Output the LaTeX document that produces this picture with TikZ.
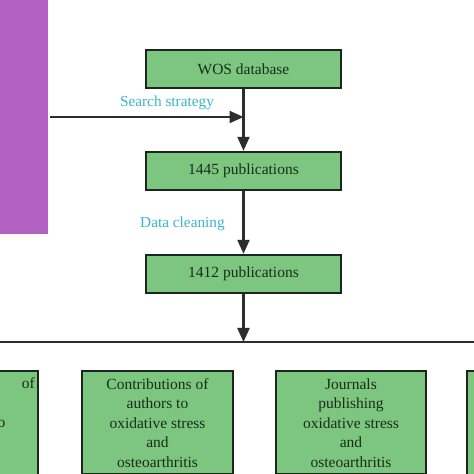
\documentclass[tikz,border=0pt]{standalone}
\usepackage{fontspec}
\setmainfont{Liberation Serif}
\usetikzlibrary{arrows.meta,positioning}
\definecolor{boxgreen}{RGB}{125,198,127}
\definecolor{boxline}{RGB}{28,38,30}
\definecolor{txtdark}{RGB}{25,45,28}
\definecolor{purp}{RGB}{178,96,194}
\definecolor{cyanlab}{RGB}{60,182,200}
\definecolor{arr}{RGB}{45,45,45}
\tikzset{
  gbox/.style={draw=boxline, line width=2.4pt, fill=boxgreen, text=txtdark, font=\fontsize{15.5}{19.5}\selectfont, inner sep=0pt, align=center},
  flow/.style={draw=arr, line width=2.2pt},
  tip/.style={-{Triangle[length=14pt,width=12pt]}},
  lab/.style={text=cyanlab, font=\fontsize{15.3}{18}\selectfont}
}
\begin{document}
\begin{tikzpicture}[x=1pt,y=1pt]
\useasboundingbox (0,0) rectangle (474,474);
\clip (0,0) rectangle (474,474);
\fill[white] (0,0) rectangle (474,474);
% purple side bar
\node[fill=purp, minimum width=48pt, minimum height=234pt, inner sep=0pt, anchor=north west] (side) at (0,474) {};
% main boxes
\node[gbox, minimum width=195pt, minimum height=38pt] (wos) at (243.5,405) {WOS database};
\node[gbox, minimum width=195pt, minimum height=38pt] (p1445) at (243.5,303) {1445 publications};
\node[gbox, minimum width=195pt, minimum height=38pt] (p1412) at (243.5,200) {1412 publications};
% bottom boxes
\node[gbox, minimum width=151pt, minimum height=104pt, anchor=north] (b1) at (-37.5,104) {};
\node[txtdark, font=\fontsize{15.5}{19.5}\selectfont, anchor=base east, inner sep=0pt] (b1t1) at (35,85) {of};
\node[txtdark, font=\fontsize{15.5}{19.5}\selectfont, anchor=base east, inner sep=0pt] (b1t3) at (5.5,46) {to};
\node[gbox, minimum width=151pt, minimum height=103pt, anchor=north] (b2) at (157.5,104) {Contributions of\\authors to\\oxidative stress\\and\\osteoarthritis};
\node[gbox, minimum width=150pt, minimum height=103pt, anchor=north] (b3) at (351,104) {Journals\\publishing\\oxidative stress\\and\\osteoarthritis};
\node[gbox, minimum width=150pt, minimum height=104pt, anchor=north west] (b4) at (466,104) {};
% connectors
\coordinate (join) at (243.5,357);
\coordinate (busL) at (-5,132);
\coordinate (busR) at (480,132);
\coordinate (busC) at (243.5,132);
\draw[flow] (busL) -- (busR);
\draw[flow, tip] (side.east |- join) ++(2,0) -- (join);
\draw[flow, tip] (wos.south) -- (p1445.north);
\draw[flow, tip] (p1445.south) -- (p1412.north);
\draw[flow, tip] (p1412.south) -- (busC);
% labels
\node[lab] (ls) at (167,371) {Search strategy};
\node[lab] (ld) at (182.5,250) {Data cleaning};
\end{tikzpicture}
\end{document}
